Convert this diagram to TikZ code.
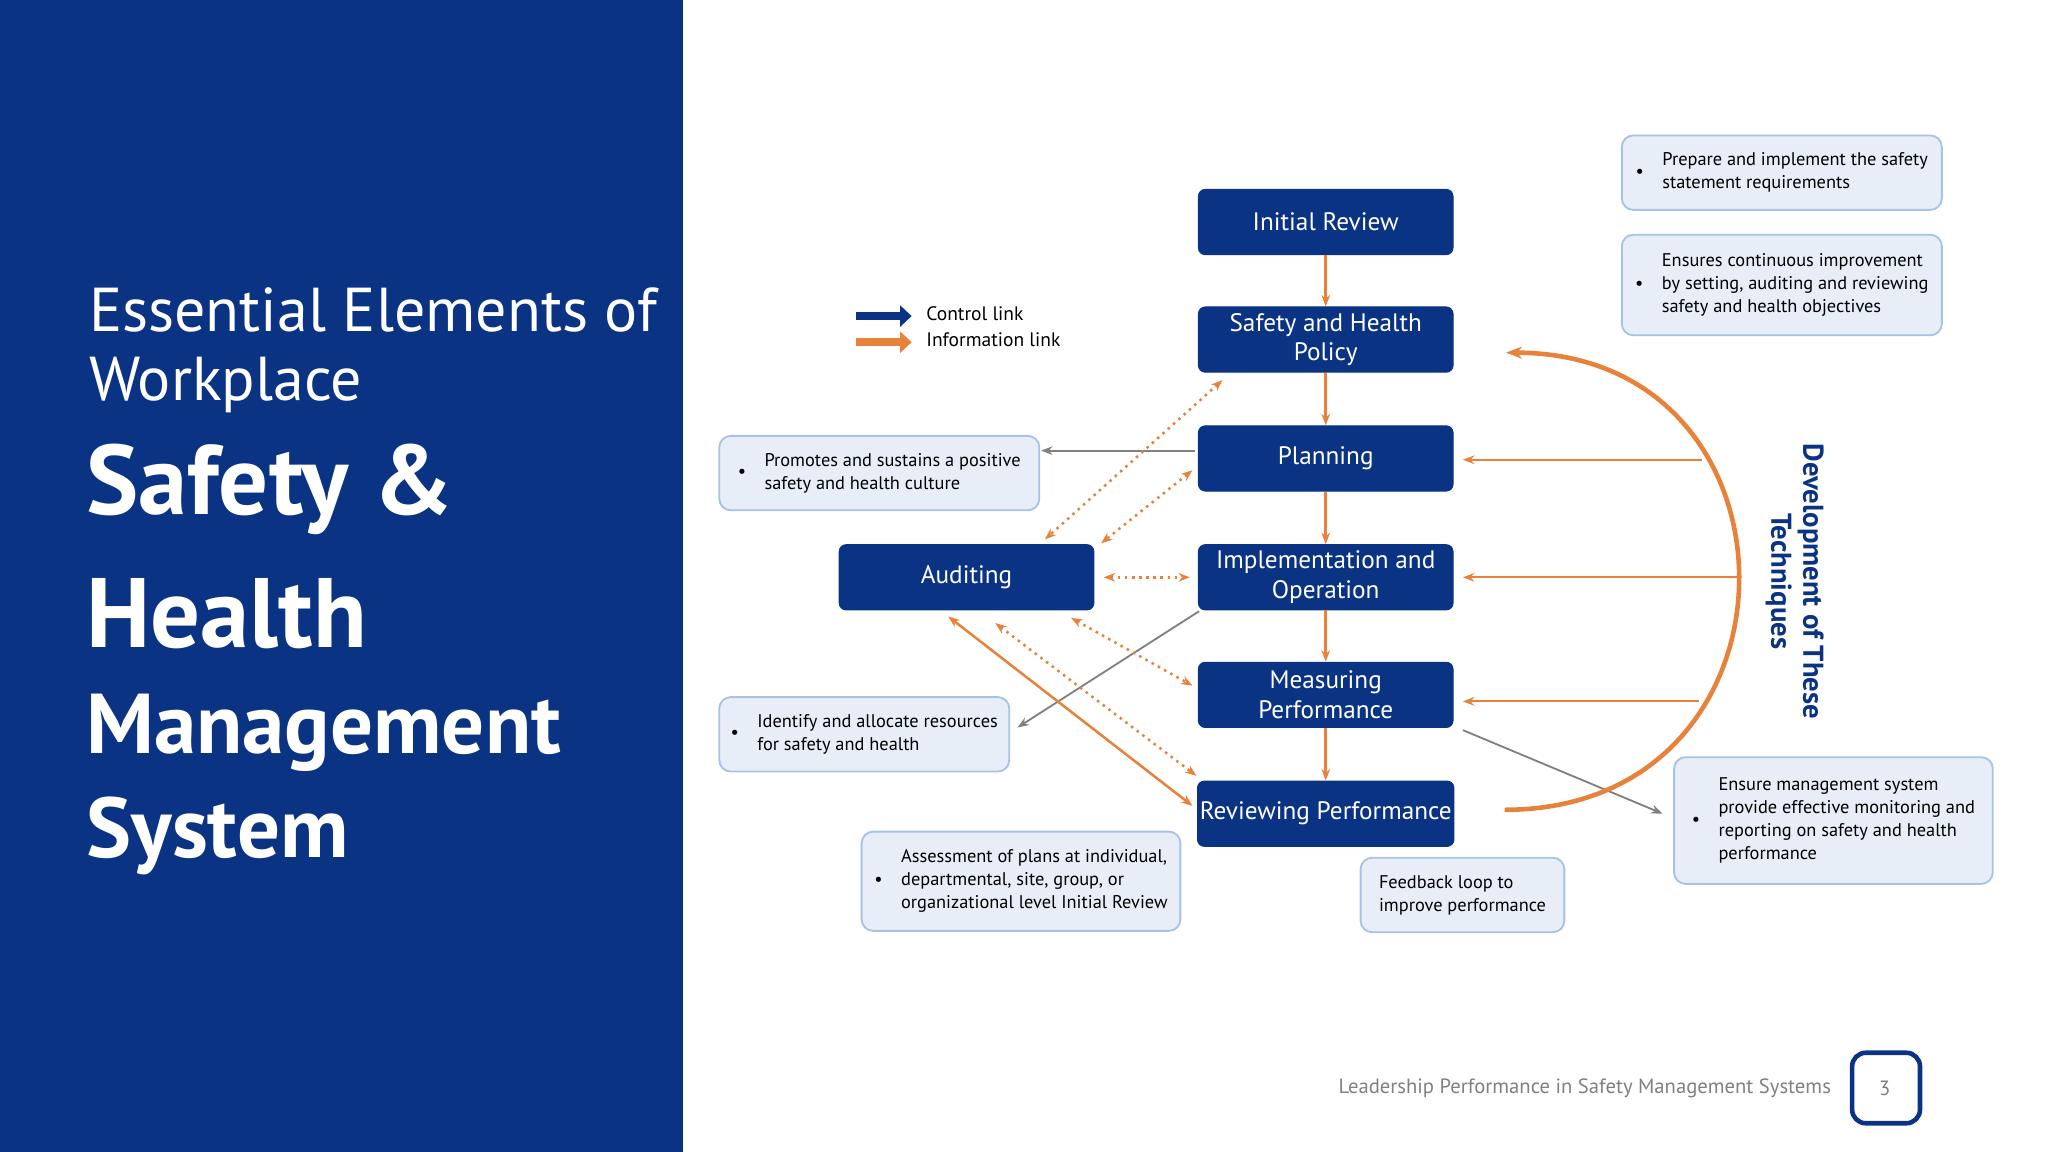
\documentclass[tikz,border=0pt]{standalone}
\usepackage{fontspec}
\setmainfont{PT Sans}
\usetikzlibrary{arrows.meta}
\definecolor{navy}{HTML}{0A3384}
\definecolor{orng}{HTML}{E8823A}
\definecolor{lfill}{HTML}{E7EEF8}
\definecolor{lbord}{HTML}{A8C2E3}
\begin{document}
\begin{tikzpicture}[x=0.02cm,y=-0.02cm,
 dbox/.style={draw=navy,fill=navy,rounded corners=3pt,text=white,minimum width=195*0.02cm,minimum height=50*0.02cm,align=center,font=\fontsize{11}{13}\selectfont,inner sep=1pt},
 lbox/.style={draw=lbord,fill=lfill,rounded corners=5pt,line width=0.8pt,align=left,font=\fontsize{8}{10}\selectfont,anchor=north west},
 oa/.style={orng,line width=1.2pt,-{Stealth[length=5pt]}},
 od/.style={orng,line width=1.1pt,dotted,{Stealth[length=5pt]}-{Stealth[length=5pt]}},
 ga/.style={gray,line width=0.8pt,-{Stealth[length=5pt]}}]
\useasboundingbox (0,0) rectangle (1568,882);
\fill[navy] (0,0) rectangle (523,882);
\node[anchor=west,white,font=\fontsize{27}{30}\selectfont] (t1) at (62,237) {Essential Elements of};
\node[anchor=west,white,font=\fontsize{27}{30}\selectfont] (t2) at (62,295) {Workplace};
\node[anchor=west,white,font=\bfseries\fontsize{43}{48}\selectfont] (t3) at (60,375) {Safety \&};
\node[anchor=west,white,font=\bfseries\fontsize{43}{48}\selectfont] (t4) at (60,470) {Health};
\node[anchor=west,white,font=\bfseries\fontsize{37}{42}\selectfont] (t5) at (60,561) {Management};
\node[anchor=west,white,font=\bfseries\fontsize{37}{42}\selectfont] (t6) at (60,640) {System};

\node[dbox] (ir) at (1015,170) {Initial Review};
\node[dbox] (sp) at (1015,260) {Safety and Health\\Policy};
\node[dbox] (pl) at (1015,351) {Planning};
\node[dbox] (io) at (1015,442) {Implementation and\\Operation};
\node[dbox] (mp) at (1015,532) {Measuring\\Performance};
\node[dbox] (rp) at (1015,623) {Reviewing Performance};
\node[dbox] (au) at (740,442) {Auditing};
\draw[oa] (ir) -- (sp);
\draw[oa] (sp) -- (pl);
\draw[oa] (pl) -- (io);
\draw[oa] (io) -- (mp);
\draw[oa] (mp) -- (rp);

\coordinate (lg1) at (655,242); \coordinate (lg1e) at (698,242);
\coordinate (lg2) at (655,262); \coordinate (lg2e) at (698,262);
\draw[navy,line width=3.5pt,-{Triangle[length=5pt,width=9pt]}] (lg1) -- (lg1e);
\draw[orng,line width=3.5pt,-{Triangle[length=5pt,width=9pt]}] (lg2) -- (lg2e);
\node[anchor=west,font=\fontsize{8.5}{10}\selectfont] (l1) at (703,240) {Control link};
\node[anchor=west,font=\fontsize{8.5}{10}\selectfont] (l2) at (703,260) {Information link};

\node[lbox,minimum width=245*0.02cm,minimum height=57*0.02cm] (b1) at (550,333) {\textbullet\hspace{8pt}\begin{tabular}[c]{@{}l@{}}Promotes and sustains a positive\\safety and health culture\end{tabular}};
\node[lbox,minimum width=222*0.02cm,minimum height=57*0.02cm] (b2) at (550,533) {\textbullet\hspace{8pt}\begin{tabular}[c]{@{}l@{}}Identify and allocate resources\\for safety and health\end{tabular}};
\node[lbox,minimum width=244*0.02cm,minimum height=76*0.02cm] (b3) at (659,636) {\textbullet\hspace{8pt}\begin{tabular}[c]{@{}l@{}}Assessment of plans at individual,\\departmental, site, group, or\\organizational level Initial Review\end{tabular}};
\node[lbox,minimum width=156*0.02cm,minimum height=57*0.02cm] (b4) at (1041,656) {\begin{tabular}[c]{@{}l@{}}Feedback loop to\\improve performance\end{tabular}};
\node[lbox,minimum width=245*0.02cm,minimum height=57*0.02cm] (b5) at (1241,103) {\textbullet\hspace{8pt}\begin{tabular}[c]{@{}l@{}}Prepare and implement the safety\\statement requirements\end{tabular}};
\node[lbox,minimum width=245*0.02cm,minimum height=77*0.02cm] (b6) at (1241,179) {\textbullet\hspace{8pt}\begin{tabular}[c]{@{}l@{}}Ensures continuous improvement\\by setting, auditing and reviewing\\safety and health objectives\end{tabular}};
\node[lbox,minimum width=244*0.02cm,minimum height=97*0.02cm] (b7) at (1281,579) {\textbullet\hspace{8pt}\begin{tabular}[c]{@{}l@{}}Ensure management system\\provide effective monitoring and\\reporting on safety and health\\performance\end{tabular}};

\coordinate (g1s) at (915,345); \coordinate (g1e) at (797,345);
\coordinate (g2s) at (918,468); \coordinate (g2e) at (779,557);
\coordinate (g3s) at (1120,559); \coordinate (g3e) at (1273,623);
\draw[ga] (g1s) -- (g1e);
\draw[ga] (g2s) -- (g2e);
\draw[ga] (g3s) -- (g3e);

\coordinate (d1a) at (936,291); \coordinate (d1b) at (800,413);
\coordinate (d2a) at (913,360); \coordinate (d2b) at (843,416);
\coordinate (d3a) at (845,442); \coordinate (d3b) at (911,442);
\coordinate (d4a) at (820,473); \coordinate (d4b) at (913,525);
\coordinate (d5a) at (762,477); \coordinate (d5b) at (916,594);
\coordinate (s1a) at (726,472); \coordinate (s1b) at (913,617);
\draw[od] (d1a) -- (d1b);
\draw[od] (d2a) -- (d2b);
\draw[od] (d3a) -- (d3b);
\draw[od] (d4a) -- (d4b);
\draw[od] (d5a) -- (d5b);
\draw[orng,line width=1.1pt,{Stealth[length=5pt]}-{Stealth[length=5pt]}] (s1a) -- (s1b);

\coordinate (as) at (1152,620); \coordinate (ae) at (1153,270);
\draw[orng,line width=2pt,-{Stealth[length=7pt]}] (as) .. controls (1390,620) and (1390,270) .. (ae);
\coordinate (h1) at (1303,352); \coordinate (h1e) at (1120,352);
\coordinate (h2) at (1330,442); \coordinate (h2e) at (1120,442);
\coordinate (h3) at (1301,537); \coordinate (h3e) at (1120,537);
\draw[oa,line width=0.9pt] (h1) -- (h1e);
\draw[oa,line width=0.9pt] (h2) -- (h2e);
\draw[oa,line width=0.9pt] (h3) -- (h3e);

\node[rotate=-90,navy,font=\bfseries\fontsize{12.5}{14}\selectfont,align=center] (dev) at (1374,445) {Development of These\\Techniques};

\node[anchor=east,gray,font=\fontsize{9}{11}\selectfont] (ft) at (1408,833) {Leadership Performance in Safety Management Systems};
\draw[navy,line width=2pt,rounded corners=6pt] (1418,806) rectangle (1470,860);
\node[gray,font=\fontsize{9}{11}\selectfont] (pg) at (1443,833) {3};
\end{tikzpicture}
\end{document}
